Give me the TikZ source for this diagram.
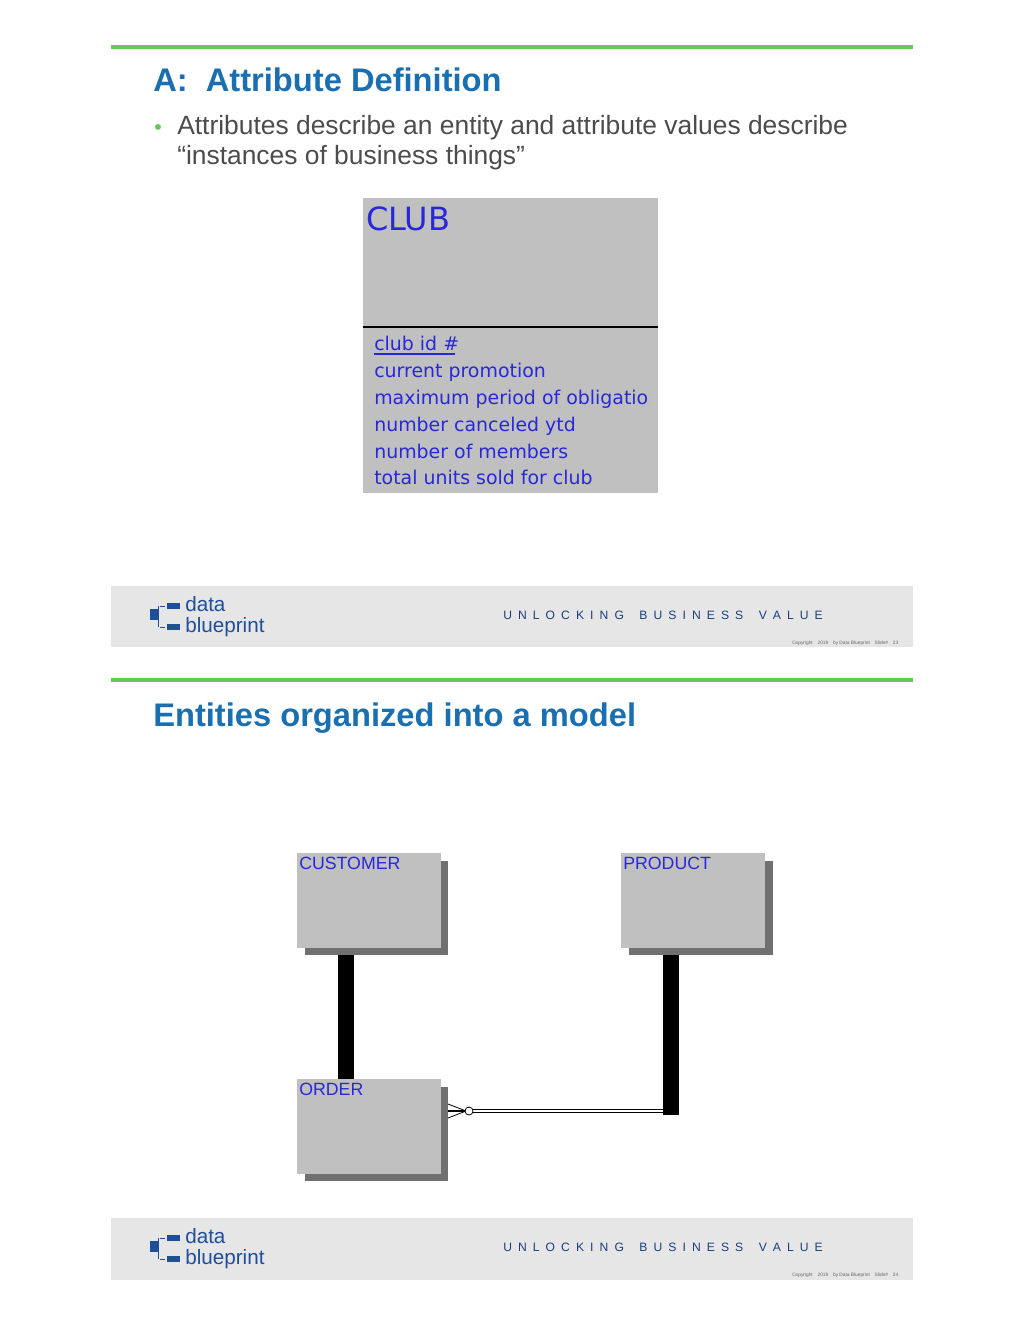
\documentclass[tikz,border=0pt]{standalone}
\usepackage{fontspec}
\setmainfont{Liberation Sans}
\newfontfamily\dejasans{DejaVu Sans}
\definecolor{ttl}{HTML}{1A6FB0}
\definecolor{grn}{HTML}{66C85A}
\definecolor{foot}{HTML}{E6E6E6}
\definecolor{ent}{HTML}{C0C0C0}
\definecolor{etxt}{HTML}{2828D8}
\definecolor{logo}{HTML}{1F4E9A}
\definecolor{shad}{HTML}{707070}
\newcommand{\unlock}{U\,\,\,N\,\,\,L\,\,\,O\,\,\,C\,\,\,K\,\,\,I\,\,\,N\,\,\,G\quad\ B\,\,\,U\,\,\,S\,\,\,I\,\,\,N\,\,\,E\,\,\,S\,\,\,S\quad\ V\,\,\,A\,\,\,L\,\,\,U\,\,\,E}
\begin{document}
\begin{tikzpicture}[x=0.75pt,y=-0.75pt,
  title/.style={anchor=base west,font=\bfseries\fontsize{24.5}{28}\selectfont,text=ttl,inner sep=0},
  bodytxt/.style={anchor=base west,font=\fontsize{19.8}{22}\selectfont,text=black!70,inner sep=0},
  attr/.style={anchor=base west,font=\dejasans\fontsize{14.2}{16}\selectfont,text=etxt,inner sep=0},
  ename/.style={anchor=north west,font=\fontsize{13.3}{16}\selectfont,text=etxt,inner sep=0},
  entbox/.style={fill=ent,draw=none},
  shadow/.style={fill=shad,draw=none},
  footer/.style={anchor=base west,font=\fontsize{9.1}{11}\selectfont,text=logo!80!black,inner sep=0},
  copy/.style={anchor=base west,font=\fontsize{3.6}{4}\selectfont,text=black!60,inner sep=0},
  logotxt/.style={anchor=base west,inner sep=0,font=\fontsize{15.5}{16}\selectfont,text=logo}]
\useasboundingbox[fill=white] (0,0) rectangle (1024,1326);
% ---------- slide 1 ----------
\draw[grn,line width=3] (111,47) -- (913,47);
\node[title] (t1) at (153,92) {A:\ \ Attribute Definition};
\node[anchor=base west,inner sep=0,text=grn,font=\fontsize{16}{18}\selectfont] (b1) at (154,135) {•};
\node[bodytxt] (l1) at (177,135) {Attributes describe an entity and attribute values describe};
\node[bodytxt] (l2) at (177,165) {“instances of business things”};
\fill[ent] (363,198) rectangle (658,493);
\draw[black,line width=1] (363,327) -- (658,327);
\node[anchor=base west,inner sep=0,font=\dejasans\fontsize{24}{28}\selectfont,text=etxt] (club) at (366,231) {CLUB};
\begin{scope}
\clip (363,327) rectangle (649,493);
\node[attr] (a1) at (374,351) {club id \#};
\draw[etxt,line width=0.8] (374,354) -- (455,354);
\node[attr] (a2) at (374,378) {current promotion};
\node[attr] (a3) at (374,404) {maximum period of obligation};
\node[attr] (a4) at (374,431) {number canceled ytd};
\node[attr] (a5) at (374,458) {number of members};
\node[attr] (a6) at (374,484) {total units sold for club};
\end{scope}
% footer 1
\fill[foot] (111,586) rectangle (913,647);
\node[footer] (u1) at (503,619) {\unlock};
\node[copy] (c1) at (792,644) {Copyright\quad 2019\quad by Data Blueprint\quad Slide\#\quad 23};
\fill[logo] (150,609) rectangle (158,620);
\fill[logo] (167,603) rectangle (180,609);
\fill[logo] (167,624) rectangle (180,630);
\draw[logo,line width=0.5] (160,606) -- (165,606) (160,627)--(165,627) (158,606)--(158,627);
\node[logotxt] (d1) at (185,611) {data};
\node[logotxt] (bp1) at (185,632) {blueprint};
% ---------- slide 2 ----------
\draw[grn,line width=3] (111,680) -- (913,680);
\node[title] (t2) at (153,726) {Entities organized into a model};
\fill[black] (338,952) rectangle (354,1079);
\fill[black] (663,952) rectangle (679,1115);
\fill[shadow] (305,861) rectangle (448,955);
\node[entbox,minimum width=108pt,minimum height=71.25pt,anchor=north west,inner sep=0] (cust) at (297,853) {};
\node[ename] (cn) at (299,857) {CUSTOMER};
\fill[shadow] (629,861) rectangle (773,955);
\node[entbox,minimum width=108pt,minimum height=71.25pt,anchor=north west,inner sep=0] (prod) at (621,853) {};
\node[ename] (pn) at (623,857) {PRODUCT};
\fill[shadow] (305,1087) rectangle (448,1181);
\node[entbox,minimum width=108pt,minimum height=71.25pt,anchor=north west,inner sep=0] (ord) at (297,1079) {};
\node[ename] (on) at (299,1083) {ORDER};
\coordinate (re) at (448,1111);
\coordinate (rc) at (469,1111);
\coordinate (rp) at (663,1111);
\draw[black,double=white,double distance=1.2pt,line width=0.6pt] (473,1111) -- (rp);
\draw[black,line width=0.6] (448,1104) -- (466,1111) -- (448,1118);
\draw[black,line width=1] (re) -- (466,1111);
\node[circle,draw=black,fill=white,inner sep=0,minimum size=6pt,line width=0.6] (circ) at (rc) {};
% footer 2
\fill[foot] (111,1218) rectangle (913,1280);
\node[footer] (u2) at (503,1251) {\unlock};
\node[copy] (c2) at (792,1276) {Copyright\quad 2019\quad by Data Blueprint\quad Slide\#\quad 24};
\fill[logo] (150,1241) rectangle (158,1252);
\fill[logo] (167,1235) rectangle (180,1241);
\fill[logo] (167,1256) rectangle (180,1262);
\draw[logo,line width=0.5] (160,1238) -- (165,1238) (160,1259)--(165,1259) (158,1238)--(158,1259);
\node[logotxt] (d2) at (185,1243) {data};
\node[logotxt] (bp2) at (185,1264) {blueprint};
\end{tikzpicture}
\end{document}
